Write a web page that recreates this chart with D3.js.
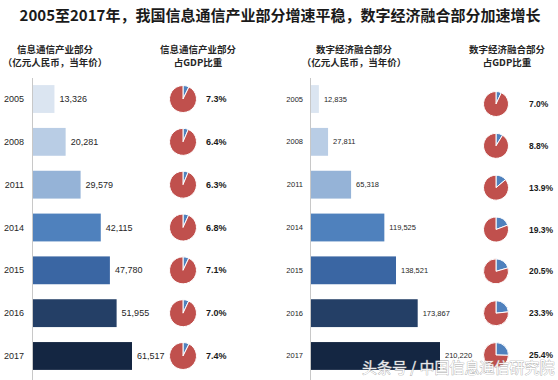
<!DOCTYPE html>
<html><head><meta charset="utf-8">
<script src="https://cdn.jsdelivr.net/npm/d3@7"></script>
<style>
html,body{margin:0;padding:0;background:#fff;}
svg{display:block;}
</style></head>
<body>
<svg id="chart" width="558" height="380"></svg>
<script>
const years = ['2005','2008','2011','2014','2015','2016','2017'];
const ictValues = [13326,20281,29579,42115,47780,51955,61517];
const ictShare = [7.3,6.4,6.3,6.8,7.1,7.0,7.4];
const digValues = [12835,27811,65318,119525,138521,173867,210220];
const digShare = [7.0,8.8,13.9,19.3,20.5,23.3,25.4];
const barColors = ['#dbe5f1','#b9cde5','#95b3d7','#4f81bd','#3a66a3','#243f66','#142642'];
const title = '2005至2017年，我国信息通信产业部分增速平稳，数字经济融合部分加速增长';
const headers = [
  {x:55, lines:['信息通信产业部分','（亿元人民币，当年价）']},
  {x:198, lines:['信息通信产业部分','占GDP比重']},
  {x:354, lines:['数字经济融合部分','（亿元人民币，当年价）']},
  {x:507, lines:['数字经济融合部分','占GDP比重']}
];
const watermark = '头条号 / 中国信息通信研究院';

const svg = d3.select('#chart');
const cjk = '"Noto Sans CJK SC", "Noto Sans", sans-serif';
const lat = '"Liberation Sans", Arial, sans-serif';

svg.append('text').attr('x', 280).attr('y', 14).attr('text-anchor','middle')
  .attr('dominant-baseline','central')
  .style('font-family', cjk).style('font-weight','bold').style('font-size','15px')
  .attr('fill','#1a1a1a').text(title);

headers.forEach(h => {
  h.lines.forEach((l,i) => {
    svg.append('text').attr('x', h.x).attr('y', 49 + i*13).attr('text-anchor','middle')
      .attr('dominant-baseline','central')
      .style('font-family', cjk).style('font-weight','bold').style('font-size','9.5px')
      .attr('fill','#262626').text(l);
  });
});

const y = d3.scaleBand().domain(years).range([77.6, 377.4]).paddingInner(0.35).paddingOuter(0.175);
const yPieRight = d3.scalePoint().domain(years).range([104, 355]);

function panel(opts){
  const {x0, xMax, values, shares, yearX, yearSize, valSize, pieX, pieR, pctX, pctSize, pieY} = opts;
  const x = d3.scaleLinear().domain([0, d3.max(values)]).range([x0, xMax]);
  const g = svg.append('g');
  g.append('line').attr('x1', x0-0.5).attr('x2', x0-0.5).attr('y1', 78).attr('y2', 380)
    .attr('stroke','#c8c8c8').attr('stroke-width',1);
  g.selectAll('rect.bar').data(values).enter().append('rect')
    .attr('x', x0).attr('y', (d,i)=>y(years[i]))
    .attr('width', d => x(d)-x0).attr('height', y.bandwidth())
    .attr('fill', (d,i)=>barColors[i]);
  g.selectAll('text.yr').data(years).enter().append('text')
    .attr('x', yearX).attr('y', d => y(d)+y.bandwidth()/2).attr('text-anchor','end')
    .attr('dominant-baseline','central')
    .style('font-family', lat).style('font-size', yearSize+'px').attr('fill','#262626').text(d=>d);
  g.selectAll('text.val').data(values).enter().append('text')
    .attr('x', d => x(d)+5).attr('y', (d,i)=>y(years[i])+y.bandwidth()/2)
    .attr('dominant-baseline','central')
    .style('font-family', lat).style('font-size', valSize+'px').attr('fill','#262626')
    .text(d => d3.format(',')(d));
  const pie = d3.pie().sort(null).value(d=>d);
  const arc = d3.arc().innerRadius(0).outerRadius(pieR);
  shares.forEach((s,i) => {
    const cy = pieY(years[i]);
    const pg = g.append('g').attr('transform', `translate(${pieX},${cy})`);
    pg.selectAll('path').data(pie([s, 100-s])).enter().append('path')
      .attr('d', arc).attr('fill', (d,j)=> j===0 ? '#4f81bd' : '#c0504d')
      .attr('stroke','#fff').attr('stroke-width',1);
    g.append('text').attr('x', pctX).attr('y', cy).attr('dominant-baseline','central')
      .style('font-family', lat).style('font-weight','bold').style('font-size', pctSize+'px')
      .attr('fill','#1a1a1a').text(d3.format('.1f')(s)+'%');
  });
}

panel({x0:33, xMax:132, values:ictValues, shares:ictShare, yearX:24, yearSize:9, valSize:9,
  pieX:183, pieR:13.5, pctX:206, pctSize:9, pieY: d => y(d)+y.bandwidth()/2});
panel({x0:311, xMax:440, values:digValues, shares:digShare, yearX:303, yearSize:7.5, valSize:7.5,
  pieX:496, pieR:12.5, pctX:529, pctSize:8.5, pieY: d => yPieRight(d)});

svg.append('text').attr('x', 362).attr('y', 373)
  .style('font-family', cjk).style('font-size','15px')
  .attr('fill','#fff').attr('stroke','#9a9a9a').attr('stroke-width',0.7).attr('paint-order','stroke')
  .attr('opacity',0.9).text(watermark);
</script>
</body></html>
